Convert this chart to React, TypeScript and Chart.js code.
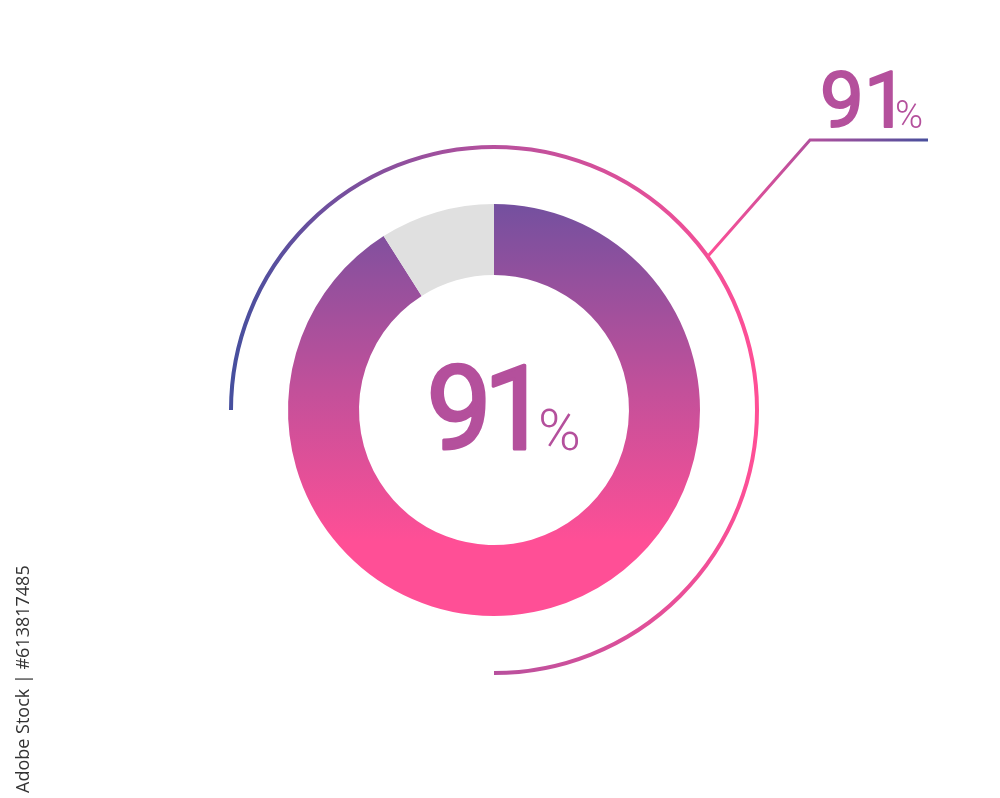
import React, { useEffect, useRef } from "react";
import { Chart, registerables } from "chart.js";

Chart.register(...registerables);

const categories = ["Value", "Remainder"];
const values = [91, 9];
const percentLabel = "91";
const percentSign = "%";
const sideText = "Adobe Stock | #613817485";

const W = 1000;
const H = 798;

const decoPlugin = {
  id: "deco",
  afterDraw(chart: any) {
    const ctx: CanvasRenderingContext2D = chart.ctx;
    const meta = chart.getDatasetMeta(0);
    const a = meta.data[0] as any;
    const cx = a.x;
    const cy = a.y;
    const R = a.outerRadius;
    const r = R + 57;

    ctx.save();
    // outer arc
    const g = ctx.createLinearGradient(cx - r, 0, cx + r, 0);
    g.addColorStop(0, "#464f9e");
    g.addColorStop(0.5, "#b7509d");
    g.addColorStop(1, "#ff4f96");
    ctx.strokeStyle = g;
    ctx.lineWidth = 4;
    ctx.lineCap = "butt";
    ctx.beginPath();
    ctx.arc(cx, cy, r, Math.PI, Math.PI * 2.5, false);
    ctx.stroke();

    // leader line
    const th = (-35.7 * Math.PI) / 180;
    const sx = cx + r * Math.cos(th);
    const sy = cy + r * Math.sin(th);
    const kx = cx + 316;
    const ky = cy - 270;
    const ex = cx + 434;
    const ey = ky;
    const lg = ctx.createLinearGradient(sx, sy, ex, ey);
    lg.addColorStop(0, "#ff4f96");
    lg.addColorStop(0.57, "#b4509d");
    lg.addColorStop(1, "#484f9c");
    ctx.strokeStyle = lg;
    ctx.lineWidth = 3;
    ctx.lineJoin = "miter";
    ctx.beginPath();
    ctx.moveTo(sx, sy);
    ctx.lineTo(kx, ky);
    ctx.lineTo(ex, ey);
    ctx.stroke();

    const color = "#b4509c";
    ctx.fillStyle = color;
    ctx.strokeStyle = color;
    ctx.lineJoin = "round";
    ctx.textBaseline = "alphabetic";
    ctx.textAlign = "left";

    const drawInk = (txt: string, leftInk: number, base: number, font: string, sw: number) => {
      ctx.font = font;
      const m = ctx.measureText(txt);
      const x = leftInk + m.actualBoundingBoxLeft + sw / 2;
      ctx.fillText(txt, x, base);
      if (sw > 0) {
        ctx.lineWidth = sw;
        ctx.strokeText(txt, x, base);
      }
    };
    const drawInkRight = (txt: string, rightInk: number, base: number, font: string, sw: number) => {
      ctx.font = font;
      const m = ctx.measureText(txt);
      const x = rightInk - m.actualBoundingBoxRight - sw / 2;
      ctx.fillText(txt, x, base);
      if (sw > 0) {
        ctx.lineWidth = sw;
        ctx.strokeText(txt, x, base);
      }
    };

    // center label
    const bigFont = "400 116px Roboto";
    const d0 = percentLabel.charAt(0);
    const d1 = percentLabel.slice(1);
    drawInk(d0, cx - 64, cy + 39, bigFont, 3);
    drawInkRight(d1, cx + 33, cy + 39, bigFont, 3);
    drawInk(percentSign, cx + 47, cy + 40, "300 58px Roboto", 0);

    // side label
    const medFont = "400 78px Roboto";
    drawInk(d0, cx + 328, cy - 283, medFont, 2);
    drawInkRight(d1, cx + 399, cy - 283, medFont, 2);
    drawInk(percentSign, cx + 403, cy - 282, "300 38px Roboto", 0);

    // vertical side text
    ctx.save();
    ctx.translate(29, 793);
    ctx.rotate(-Math.PI / 2);
    ctx.fillStyle = "#333333";
    ctx.font = "500 18px 'Open Sans'";
    ctx.textAlign = "left";
    ctx.fillText(sideText, 0, 0);
    ctx.restore();

    ctx.restore();
  },
};

export default function App() {
  const ref = useRef<HTMLCanvasElement | null>(null);

  useEffect(() => {
    const canvas = ref.current;
    if (!canvas) return;
    const chart = new Chart(canvas, {
      type: "doughnut",
      data: {
        labels: categories,
        datasets: [
          {
            data: values,
            backgroundColor: (c: any) => {
              const area = c.chart.chartArea;
              if (!area) return "#c04f9a";
              if (c.dataIndex === 1) return "#e0e0e0";
              const gr = c.chart.ctx.createLinearGradient(0, area.top, 0, area.bottom);
              gr.addColorStop(0, "#74509f");
              gr.addColorStop(0.45, "#c2509a");
              gr.addColorStop(0.82, "#ff4f96");
              gr.addColorStop(1, "#ff4f96");
              return gr;
            },
            borderWidth: 0,
            hoverOffset: 0,
          },
        ],
      },
      options: {
        responsive: false,
        animation: false,
        events: [],
        rotation: 0,
        cutout: 135,
        layout: { padding: { left: 288, right: 300, top: 204, bottom: 182 } },
        plugins: {
          legend: { display: false },
          tooltip: { enabled: false },
        },
      } as any,
      plugins: [decoPlugin],
    });
    return () => chart.destroy();
  }, []);

  return (
    <div style={{ position: "absolute", left: 0, top: 0, width: W, height: H, background: "#fff" }}>
      <canvas ref={ref} width={W} height={H} style={{ display: "block", width: W, height: H }} />
    </div>
  );
}
